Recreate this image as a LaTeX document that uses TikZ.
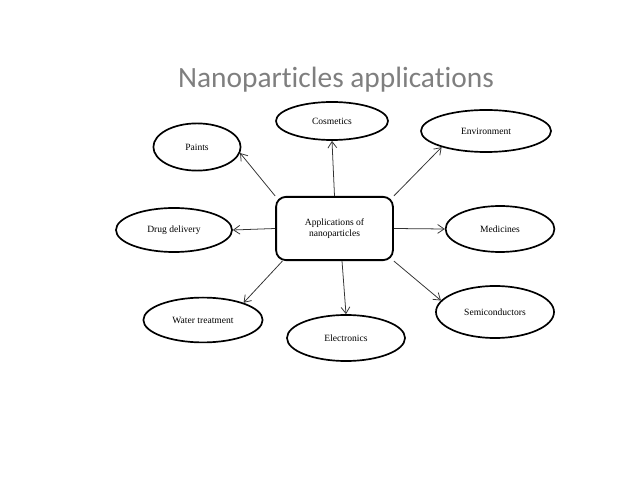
\documentclass[tikz,border=0pt]{standalone}
\usepackage{fontspec}
\setmainfont{Liberation Serif}
\newfontfamily\titlefont[Ligatures=NoCommon]{Carlito}
\usepackage{tikz}
\usetikzlibrary{arrows.meta,shapes.geometric}
\definecolor{nptitle}{HTML}{7F7F7F}
\definecolor{npline}{HTML}{000000}

\begin{document}
\begin{tikzpicture}[x=0.025cm,y=-0.025cm,
      app/.style={ellipse,draw=npline,line width=1.2pt,inner sep=0pt,
                  font=\fontsize{6.8}{8}\selectfont},
      hub/.style={rounded corners=7pt,draw=npline,line width=1.3pt,minimum width=2.92cm,
                  minimum height=1.58cm,align=center,font=\fontsize{6.8}{8}\selectfont},
      arr/.style={-{Straight Barb[length=1.6mm,width=2.2mm]},line width=0.55pt,npline!80}]
    \useasboundingbox (0,0) rectangle (638,478);
    \node[anchor=base,font=\titlefont\fontsize{20.9}{24}\selectfont,text=nptitle] (title) at (336,88) {Nanoparticles applications};
    \node[hub] (hub) at (334.5,228.5) {Applications of\\nanoparticles};
    \node[app,minimum width=2.8cm,minimum height=0.95cm] (cosm) at (332,121) {Cosmetics};
    \node[app,minimum width=3.25cm,minimum height=1.05cm] (env) at (486,131) {Environment};
    \node[app,minimum width=2.18cm,minimum height=1.18cm] (paint) at (197,147) {Paints};
    \node[app,minimum width=2.9cm,minimum height=1.1cm] (drug) at (174,230) {Drug delivery};
    \node[app,minimum width=2.72cm,minimum height=1.15cm] (med) at (500,229) {Medicines};
    \node[app,minimum width=2.98cm,minimum height=1.12cm] (water) at (203,320) {Water treatment};
    \node[app,minimum width=2.95cm,minimum height=1.15cm] (elec) at (346,338) {Electronics};
    \node[app,minimum width=2.95cm,minimum height=1.3cm] (semi) at (495,312) {Semiconductors};
    \draw[arr] (hub.north west) -- (paint.-8); \draw[arr] (hub.north) -- (cosm.south);
    \draw[arr] (hub.north east) -- (env.200); \draw[arr] (hub.west) -- (drug.east);
    \draw[arr] (hub.east) -- (med.west); \draw[arr] (hub.212) -- (water.23);
    \draw[arr] (hub.-77) -- (elec.north); \draw[arr] (hub.south east) -- (semi.168);
  \end{tikzpicture}
\end{document}
